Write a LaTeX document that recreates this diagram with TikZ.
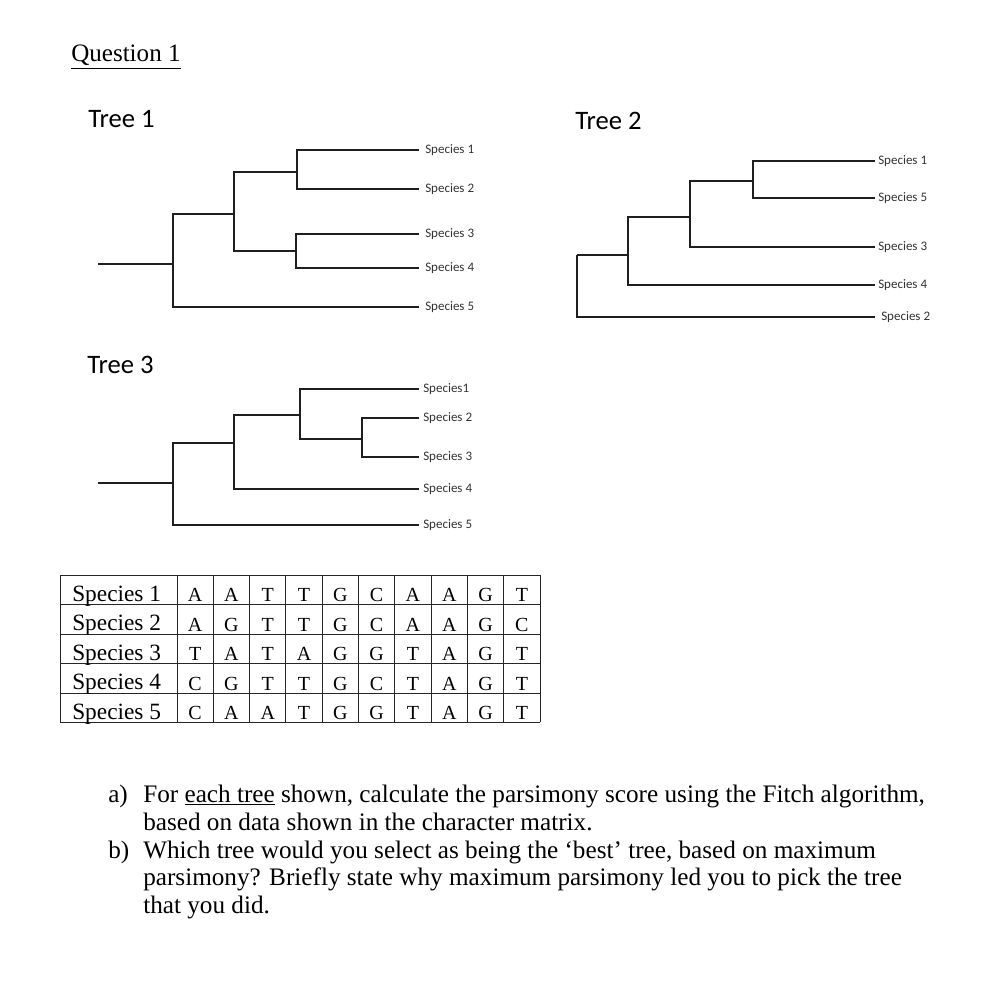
\documentclass[tikz,border=0pt]{standalone}
\usepackage{fontspec}
\setmainfont{Liberation Serif}
\newfontfamily\calib{Carlito}
\begin{document}
\begin{tikzpicture}[x=0.75pt,y=-0.75pt,
  br/.style={line width=1.5pt, line join=miter, color=black!88},
  sp/.style={font=\calib\fontsize{9.75}{11}\selectfont, anchor=west, inner xsep=4.5pt, inner ysep=0pt, text=black!80},
  spb/.style={sp, inner xsep=2.25pt},
  treetitle/.style={font=\calib\fontsize{20}{23}\selectfont, anchor=base west, inner sep=0pt},
  grid/.style={line width=0.75pt, color=black!85},
  rowlab/.style={font=\fontsize{17.5}{20}\selectfont, anchor=base west, inner sep=0pt},
  cell/.style={font=\fontsize{15}{17}\selectfont, anchor=base, inner sep=0pt},
  para/.style={font=\fontsize{18.9}{22}\selectfont, anchor=base west, inner sep=0pt}]
\useasboundingbox[fill=white] (0,0) rectangle (984,984);

% Title
\node[anchor=base west, inner sep=0pt, font=\fontsize{18.8}{22}\selectfont] (q1) at (71,62) {\underline{Question 1}};

% ---------- Tree 1 ----------
\node[treetitle] (tt1) at (88,128) {Tree 1};
\coordinate (t1r) at (98,264);
\coordinate (t1a) at (173,264);
\coordinate (t1b) at (234,214);
\coordinate (t1c) at (297,172);
\coordinate (t1d) at (296,251);
\node[sp] (s11) at (419,150) {Species 1};
\node[sp] (s12) at (419,189) {Species 2};
\node[sp] (s13) at (419,234) {Species 3};
\node[sp] (s14) at (419,268) {Species 4};
\node[sp] (s15) at (419,307) {Species 5};
\draw[br] (t1r) -- (t1a);
\draw[br] (t1a) |- (t1b);
\draw[br] (t1a) |- (s15.west);
\draw[br] (t1b) |- (t1c);
\draw[br] (t1b) |- (t1d);
\draw[br] (t1c) |- (s11.west);
\draw[br] (t1c) |- (s12.west);
\draw[br] (t1d) |- (s13.west);
\draw[br] (t1d) |- (s14.west);

% ---------- Tree 2 ----------
\node[treetitle] (tt2) at (575,130) {Tree 2};
\coordinate (t2a) at (577,255);
\coordinate (t2b) at (628,255);
\coordinate (t2c) at (690,217);
\coordinate (t2d) at (753,181);
\node[spb] (s21) at (875,161) {Species 1};
\node[spb] (s25) at (875,198) {Species 5};
\node[spb] (s23) at (875,247) {Species 3};
\node[spb] (s24) at (875,285) {Species 4};
\node[sp] (s22) at (875,317) {Species 2};
\draw[br] (t2a) -- (t2b);
\draw[br] (t2a) |- (s22.west);
\draw[br] (t2b) |- (t2c);
\draw[br] (t2b) |- (s24.west);
\draw[br] (t2c) |- (t2d);
\draw[br] (t2c) |- (s23.west);
\draw[br] (t2d) |- (s21.west);
\draw[br] (t2d) |- (s25.west);

% ---------- Tree 3 ----------
\node[treetitle] (tt3) at (87,373) {Tree 3};
\coordinate (t3r) at (98,483);
\coordinate (t3a) at (173,483);
\coordinate (t3b) at (234,443);
\coordinate (t3c) at (300,415);
\coordinate (t3d) at (362,439);
\node[sp, inner xsep=3pt] (s31) at (419,389) {Species1};
\node[sp, inner xsep=3pt] (s32) at (419,418) {Species 2};
\node[sp, inner xsep=3pt] (s33) at (419,457) {Species 3};
\node[sp, inner xsep=3pt] (s34) at (419,489) {Species 4};
\node[sp, inner xsep=3pt] (s35) at (419,525) {Species 5};
\draw[br] (t3r) -- (t3a);
\draw[br] (t3a) |- (t3b);
\draw[br] (t3a) |- (s35.west);
\draw[br] (t3b) |- (t3c);
\draw[br] (t3b) |- (s34.west);
\draw[br] (t3c) |- (s31.west);
\draw[br] (t3c) |- (t3d);
\draw[br] (t3d) |- (s32.west);
\draw[br] (t3d) |- (s33.west);

% ---------- Character matrix ----------
\foreach \yy in {575,604.5,634,663.5,693,722}
  \draw[grid] (60,\yy) -- (540,\yy);
\draw[grid] (60,575) -- (60,722);
\foreach \k in {0,...,10}
  \draw[grid] ({177+36.3*\k},575) -- ({177+36.3*\k},722);
\foreach \rr in {1,...,5}
  \node[rowlab] (lab\rr) at (72,{601+29.5*(\rr-1)}) {Species \rr};
\foreach \c [count=\k] in {A,A,T,T,G,C,A,A,G,T}
  \node[cell] (c1-\k) at ({177+36.3*(\k-0.5)},601.5) {\c};
\foreach \c [count=\k] in {A,G,T,T,G,C,A,A,G,C}
  \node[cell] (c2-\k) at ({177+36.3*(\k-0.5)},631) {\c};
\foreach \c [count=\k] in {T,A,T,A,G,G,T,A,G,T}
  \node[cell] (c3-\k) at ({177+36.3*(\k-0.5)},660.5) {\c};
\foreach \c [count=\k] in {C,G,T,T,G,C,T,A,G,T}
  \node[cell] (c4-\k) at ({177+36.3*(\k-0.5)},690) {\c};
\foreach \c [count=\k] in {C,A,A,T,G,G,T,A,G,T}
  \node[cell] (c5-\k) at ({177+36.3*(\k-0.5)},719.5) {\c};

% ---------- Questions ----------
\node[para] (pa) at (108,802) {a)};
\node[para] (pa1) at (143,802) {For \underline{each tree} shown, calculate the parsimony score using the Fitch algorithm,};
\node[para] (pa2) at (143,830) {based on data shown in the character matrix.};
\node[para] (pb) at (108,858) {b)};
\node[para] (pb1) at (143,858) {Which tree would you select as being the ‘best’ tree, based on maximum};
\node[para] (pb2) at (143,885) {parsimony? Briefly state why maximum parsimony led you to pick the tree};
\node[para] (pb3) at (143,913) {that you did.};
\end{tikzpicture}
\end{document}
